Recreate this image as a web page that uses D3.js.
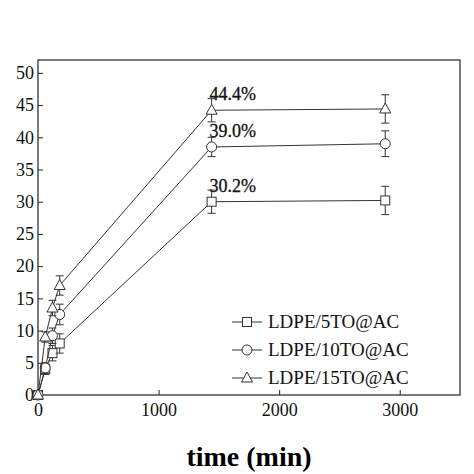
<!DOCTYPE html>
<html><head><meta charset="utf-8">
<script src="https://cdn.jsdelivr.net/npm/d3@7"></script>
<style>body{margin:0;background:#fff}svg text{font-family:"Liberation Serif","DejaVu Serif",serif !important}</style>
</head><body>
<div id="chart"></div>
<script>
const times = [0, 60, 120, 180, 1440, 2880];
const series = [
  { name: "LDPE/5TO@AC", shape: "square", values: [0, 4.0, 6.5, 8.0, 30.0, 30.2], err: [0, 0.8, 1.2, 1.5, 1.8, 2.2] },
  { name: "LDPE/10TO@AC", shape: "circle", values: [0, 4.2, 9.2, 12.5, 38.5, 39.0], err: [0, 0.8, 1.2, 1.6, 1.5, 2.0] },
  { name: "LDPE/15TO@AC", shape: "triangle", values: [0, 9.0, 13.5, 17.0, 44.2, 44.4], err: [0, 0.8, 1.2, 1.5, 1.8, 2.2] }
];
const finalLabels = ["30.2%", "39.0%", "44.4%"];
const xTicks = [0, 1000, 2000, 3000];
const yTicks = [0, 5, 10, 15, 20, 25, 30, 35, 40, 45, 50];

const svg = d3.select("#chart").append("svg").attr("width", 474).attr("height", 474);
const margin = { left: 38, right: 14, top: 60, bottom: 79 };
const x = d3.scaleLinear().domain([0, 3500]).range([margin.left, 474 - margin.right]);
const y = d3.scaleLinear().domain([0, 52]).range([474 - margin.bottom, margin.top]);

svg.append("rect").attr("x", margin.left).attr("y", margin.top)
  .attr("width", 474 - margin.left - margin.right).attr("height", 474 - margin.top - margin.bottom)
  .attr("fill", "none").attr("stroke", "#222").attr("stroke-width", 1.2);

const xa = svg.append("g").attr("transform", `translate(0,${474 - margin.bottom})`)
  .call(d3.axisBottom(x).tickValues(xTicks).tickFormat(d3.format("d")).tickSize(-5).tickPadding(8));
const ya = svg.append("g").attr("transform", `translate(${margin.left},0)`)
  .call(d3.axisLeft(y).tickValues(yTicks).tickSize(-5).tickPadding(4));
[xa, ya].forEach(a => {
  a.attr("font-family", "Liberation Serif");
  a.select(".domain").remove();
  a.selectAll("text").attr("font-size", 18).attr("fill", "#111");
  a.selectAll("line").attr("stroke", "#222");
});

svg.append("text").attr("x", (margin.left + 474 - margin.right) / 2).attr("y", 466)
  .attr("text-anchor", "middle").attr("font-size", 28).attr("font-weight", "bold").text("time (min)");

const line = d3.line().x((d, i) => x(times[i])).y(d => y(d));
function marker(g, shape, cx, cy) {
  if (shape === "square") g.append("rect").attr("x", cx - 4.5).attr("y", cy - 4.5).attr("width", 9).attr("height", 9);
  else if (shape === "circle") g.append("circle").attr("cx", cx).attr("cy", cy).attr("r", 5);
  else g.append("path").attr("d", `M${cx},${cy - 6}L${cx + 5.5},${cy + 4}L${cx - 5.5},${cy + 4}Z`);
}

series.forEach((s, k) => {
  const g = svg.append("g").attr("fill", "#fff").attr("stroke", "#333").attr("stroke-width", 1);
  g.append("path").attr("d", line(s.values)).attr("fill", "none");
  s.values.forEach((v, i) => {
    if (s.err[i] > 0) {
      const cx = x(times[i]);
      g.append("line").attr("x1", cx).attr("x2", cx).attr("y1", y(v - s.err[i])).attr("y2", y(v + s.err[i]));
      [v - s.err[i], v + s.err[i]].forEach(e => g.append("line").attr("x1", cx - 4).attr("x2", cx + 4).attr("y1", y(e)).attr("y2", y(e)));
    }
    marker(g, s.shape, x(times[i]), y(v));
  });
  svg.append("text").attr("x", x(times[4]) - 2).attr("y", y(s.values[4]) - 10)
    .attr("font-size", 18).attr("fill", "#111").attr("stroke", "#111").attr("stroke-width", 0.3).text(finalLabels[k]);
});

// legend
series.forEach((s, k) => {
  const ly = 322 + k * 28;
  const g = svg.append("g").attr("fill", "#fff").attr("stroke", "#333");
  g.append("line").attr("x1", 232).attr("x2", 262).attr("y1", ly).attr("y2", ly);
  marker(g, s.shape, 247, ly);
  svg.append("text").attr("x", 268).attr("y", ly + 6).attr("font-size", 19).attr("fill", "#111").text(s.name);
});
</script>
</body></html>
